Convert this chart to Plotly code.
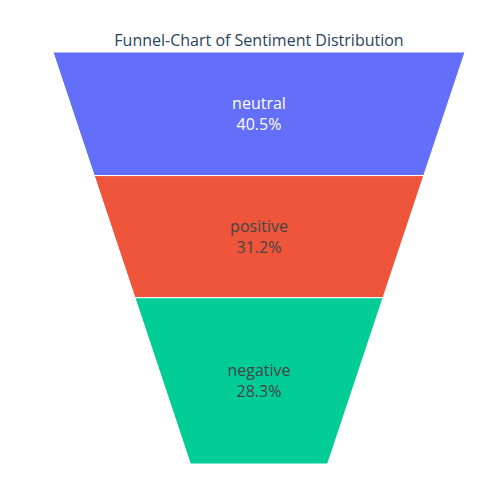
import plotly.graph_objects as go

labels = ["neutral", "positive", "negative"]
values = [40.5, 31.2, 28.3]
colors = ["#636efa", "#EF553B", "#00cc96"]

fig = go.Figure(go.Funnelarea(
    labels=labels,
    values=values,
    marker=dict(colors=colors),
    textinfo="label+percent",
    textfont=dict(size=16),
    title=dict(text="Funnel-Chart of Sentiment Distribution", font=dict(size=16)),
    showlegend=False,
))
fig.update_layout(
    width=497, height=484,
    template="plotly",
    margin=dict(l=28, r=23, t=22, b=28),
    showlegend=False,
)
fig.write_html("out.html")
